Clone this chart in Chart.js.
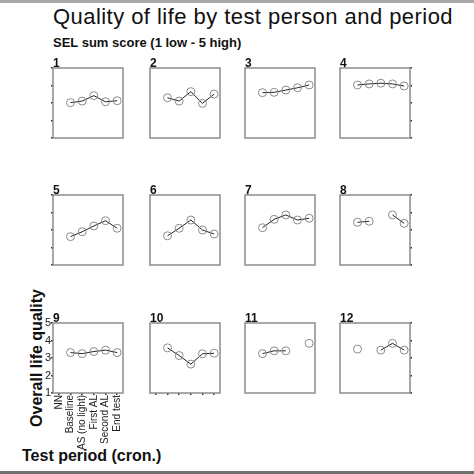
<!DOCTYPE html>
<html>
<head>
<meta charset="utf-8">
<script src="https://cdn.jsdelivr.net/npm/chart.js@4.4.0/dist/chart.umd.min.js"></script>
<style>
  html, body { margin: 0; padding: 0; background: #fff; }
  body { width: 474px; height: 474px; position: relative; overflow: hidden;
         font-family: "Liberation Sans", Arial, sans-serif; color: #111; }
  .bar-top { position: absolute; left: 0; top: 0; width: 474px; height: 3px; background: #a8a8a8; }
  .bar-bottom { position: absolute; left: 0; top: 471px; width: 474px; height: 3px; background: #707070; }
  #title { position: absolute; left: 53px; top: 4px; font-size: 22px; letter-spacing: 0.45px; white-space: nowrap; }
  #subtitle { position: absolute; left: 53px; top: 35px; font-size: 13px; font-weight: bold; white-space: nowrap; }
  #ylabel { position: absolute; left: -43px; top: 348px; width: 160px; height: 20px; line-height: 20px;
            text-align: center; font-size: 16px; font-weight: bold; transform: rotate(-90deg); white-space: nowrap; }
  #xlabel { position: absolute; left: 22px; top: 447px; font-size: 16px; font-weight: bold; white-space: nowrap; }
  canvas { position: absolute; }
</style>
</head>
<body>
<div class="bar-top"></div>
<div id="title">Quality of life by test person and period</div>
<div id="subtitle">SEL sum score (1 low - 5 high)</div>
<div id="ylabel">Overall life quality</div>
<div id="xlabel">Test period (cron.)</div>
<div class="bar-bottom"></div>

<script>
// data
const periods = ['NN', 'Baseline', 'AS (no light)', 'First AL', 'Second AL', 'End test'];
const scoreTicks = [1, 2, 3, 4, 5];
const panelNames = ['1', '2', '3', '4', '5', '6', '7', '8', '9', '10', '11', '12'];

const person1 = [null, 3.02, 3.11, 3.42, 3.07, 3.13];
const person2 = [null, 3.30, 3.11, 3.65, 2.98, 3.51];
const person3 = [null, 3.59, 3.61, 3.74, 3.87, 4.03];
const person4 = [null, 4.03, 4.09, 4.13, 4.09, 3.97];
const person5 = [null, 2.62, 2.90, 3.23, 3.53, 3.10];
const person6 = [null, 2.67, 3.10, 3.57, 3.00, 2.77];
const person7 = [null, 3.13, 3.61, 3.86, 3.57, 3.67];
const person8 = [null, 3.44, 3.50, null, 3.86, 3.38];
const person9 = [null, 3.31, 3.25, 3.37, 3.45, 3.31];
const person10 = [null, 3.58, 3.14, 2.65, 3.24, 3.27];
const person11 = [null, 3.25, 3.41, 3.41, null, 3.84];
const person12 = [null, 3.51, null, 3.45, 3.84, 3.45];

const scores = [person1, person2, person3, person4, person5, person6,
                person7, person8, person9, person10, person11, person12];

// layout of the small multiples
const boxX = [53, 150, 245, 340];
const boxY = [68, 195, 323];
const BOX = 70;
const PAD_L = 24, PAD_R = 10, PAD_T = 16, PAD_B = 72;
const TITLE_SIZE = 12;
const TITLE_H = TITLE_SIZE * 0.8;

// which panels show which axis marks (as in the SPSS output)
const leftTickPanels = [1, 5];
const rightTickPanels = [4, 8, 12];
const bottomTickPanels = [10];
const labelledPanel = 9;

Chart.defaults.font.family = '"Liberation Sans", Arial, sans-serif';
Chart.defaults.color = '#222';

const panelBox = {
  id: 'panelBox',
  beforeDatasetsDraw(chart) {
    const a = chart.chartArea;
    const ctx = chart.ctx;
    ctx.save();
    ctx.strokeStyle = '#8c8c8c';
    ctx.lineWidth = 1.5;
    ctx.strokeRect(a.left, a.top, a.right - a.left, a.bottom - a.top);
    ctx.restore();
  }
};

function tickGrid(show) {
  return {
    display: show,
    drawOnChartArea: false,
    drawTicks: true,
    tickLength: 2,
    color: '#333',
    lineWidth: 1.5,
    offset: false
  };
}

function makePanel(i) {
  const n = i + 1;
  const col = i % 4;
  const row = Math.floor(i / 4);
  const w = PAD_L + BOX + PAD_R;
  const h = PAD_T + BOX + PAD_B;

  const canvas = document.createElement('canvas');
  canvas.width = w;
  canvas.height = h;
  canvas.style.width = w + 'px';
  canvas.style.height = h + 'px';
  canvas.style.left = (boxX[col] - PAD_L) + 'px';
  canvas.style.top = (boxY[row] - PAD_T) + 'px';
  document.body.appendChild(canvas);

  const labelled = n === labelledPanel;

  new Chart(canvas, {
    type: 'line',
    data: {
      labels: periods,
      datasets: [{
        data: scores[i],
        borderColor: '#222',
        borderWidth: 1,
        tension: 0,
        pointStyle: 'circle',
        pointRadius: 4,
        pointBorderWidth: 1,
        pointBorderColor: '#8a8a8a',
        pointBackgroundColor: 'rgba(0,0,0,0)'
      }]
    },
    options: {
      responsive: false,
      animation: false,
      devicePixelRatio: 1,
      layout: { padding: { top: PAD_T - TITLE_H, left: 0, right: 0, bottom: 0 } },
      plugins: {
        legend: { display: false },
        tooltip: { enabled: false },
        title: {
          display: true,
          text: panelNames[i],
          align: 'start',
          fullSize: false,
          color: '#111',
          font: { size: TITLE_SIZE, weight: 'bold', lineHeight: 0.8 },
          padding: { top: 0, bottom: 0 }
        }
      },
      scales: {
        x: {
          type: 'category',
          offset: true,
          border: { display: false },
          grid: tickGrid(labelled || bottomTickPanels.includes(n)),
          ticks: {
            display: labelled,
            autoSkip: false,
            minRotation: 90,
            maxRotation: 90,
            padding: 0,
            font: { size: 10 },
            color: '#222'
          },
          afterFit: s => { s.height = PAD_B; }
        },
        y: {
          position: 'left',
          min: 1,
          max: 5,
          border: { display: false },
          grid: tickGrid(labelled || leftTickPanels.includes(n)),
          ticks: {
            display: labelled,
            stepSize: 1,
            padding: 0,
            font: { size: 11 },
            color: '#222',
            callback: v => scoreTicks.includes(v) ? String(v) : ''
          },
          afterFit: s => { s.width = PAD_L; }
        },
        y2: {
          position: 'right',
          min: 1,
          max: 5,
          border: { display: false },
          grid: tickGrid(rightTickPanels.includes(n)),
          ticks: { display: false, stepSize: 1 },
          afterFit: s => { s.width = PAD_R; }
        }
      }
    },
    plugins: [panelBox]
  });
}

for (let i = 0; i < scores.length; i++) {
  makePanel(i);
}
</script>
</body>
</html>
